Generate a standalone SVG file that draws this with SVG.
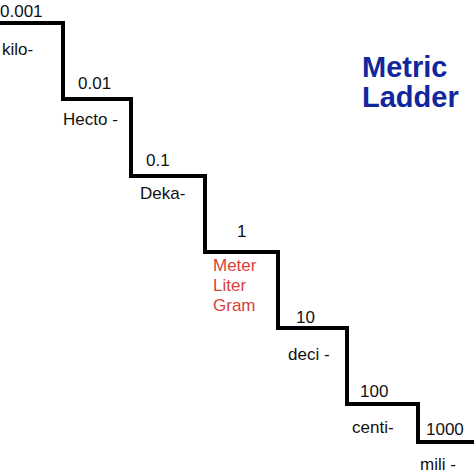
<svg xmlns="http://www.w3.org/2000/svg" width="474" height="474" viewBox="0 0 474 474">
<style>
.t{font-family:"Liberation Sans",Arial,sans-serif;font-size:17px;fill:#111}
.r{fill:#d8423a}
.h{font-family:"Liberation Sans",Arial,sans-serif;font-size:29px;font-weight:bold;fill:#12279c}
</style>
<rect width="474" height="474" fill="#fff"/>
<g id="connectors">
<polyline points="0,23 63,23 63,99 131,99 131,176 205,176 205,252 278,252 278,328 347,328 347,404 418,404 418,442 474,442" fill="none" stroke="#000" stroke-width="4" stroke-linejoin="miter"/>
</g>
<g id="title"><text class="h" x="362" y="77">Metric</text><text class="h" x="362" y="107">Ladder</text></g>
<g id="kilo"><text class="t" x="0" y="17">0.001</text><text class="t" x="2" y="55">kilo-</text></g>
<g id="hecto"><text class="t" x="78" y="89">0.01</text><text class="t" x="63" y="125">Hecto -</text></g>
<g id="deka"><text class="t" x="146" y="166">0.1</text><text class="t" x="140" y="199">Deka-</text></g>
<g id="base"><text class="t" x="237" y="237">1</text><text class="t r" x="213" y="271">Meter</text><text class="t r" x="213" y="291">Liter</text><text class="t r" x="213" y="311">Gram</text></g>
<g id="deci"><text class="t" x="296" y="323">10</text><text class="t" x="288" y="360">deci -</text></g>
<g id="centi"><text class="t" x="360" y="397">100</text><text class="t" x="352" y="433">centi-</text></g>
<g id="mili"><text class="t" x="426" y="435">1000</text><text class="t" x="420" y="470">mili -</text></g>
</svg>
